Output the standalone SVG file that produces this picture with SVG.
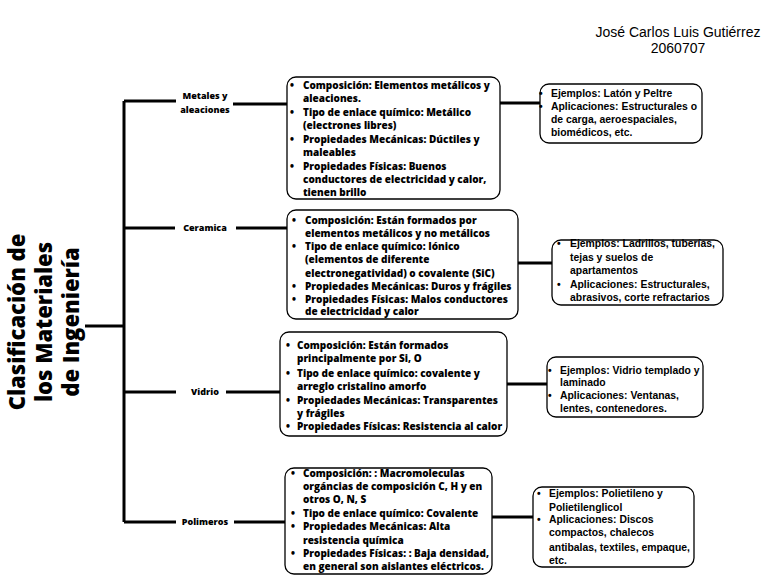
<svg xmlns="http://www.w3.org/2000/svg" width="768" height="576" viewBox="0 0 768 576">
<style>
.bg{fill:#ffffff}
.ln{stroke:#000;stroke-width:3;fill:none}
.box{fill:#fff;stroke:#000;stroke-width:1.3}
.t{font-family:"Open Sans","DejaVu Sans",sans-serif;font-weight:800;font-size:10px;fill:#000}
.r{font-family:"Liberation Sans",Arial,sans-serif;font-weight:700;font-size:10.4px;fill:#000}
.lab{font-family:"Open Sans","DejaVu Sans",sans-serif;font-weight:800;font-size:9px;fill:#000;text-anchor:middle}
.title{font-family:"Open Sans","DejaVu Sans",sans-serif;font-weight:800;font-size:22px;fill:#000;text-anchor:middle}
.auth{font-family:"Liberation Sans",Arial,sans-serif;font-size:14px;fill:#000;text-anchor:middle}
</style>
<rect class="bg" x="0" y="0" width="768" height="576"/>

<g id="author">
<text class="auth" x="678" y="37">José Carlos Luis Gutiérrez</text>
<text class="auth" x="678" y="53">2060707</text>
</g>

<g id="title">
<text class="title" transform="translate(25,322) rotate(-90)">Clasificación de</text>
<text class="title" transform="translate(52,322) rotate(-90)">los Materiales</text>
<text class="title" transform="translate(79,322) rotate(-90)">de Ingeniería</text>
</g>

<g id="connectors">
<path class="ln" d="M85 326 H124"/>
<path class="ln" d="M124 101 V522"/>
<path class="ln" d="M124 101 H176"/>
<path class="ln" d="M233 104 H288"/>
<path class="ln" d="M124 228 H175"/>
<path class="ln" d="M236 228 H288"/>
<path class="ln" d="M124 392 H176"/>
<path class="ln" d="M226 392 H280"/>
<path class="ln" d="M124 522 H176"/>
<path class="ln" d="M234 522 H285"/>
<path class="ln" d="M500 103 H540"/>
<path class="ln" d="M518 263 H553"/>
<path class="ln" d="M507 384 H547"/>
<path class="ln" d="M492 517 H533"/>
</g>

<g id="metales-label">
<text class="lab" x="205" y="99">Metales y</text>
<text class="lab" x="205" y="113">aleaciones</text>
</g>
<g id="ceramica-label"><text class="lab" x="205" y="231">Ceramica</text></g>
<g id="vidrio-label"><text class="lab" x="205" y="395">Vidrio</text></g>
<g id="polimeros-label"><text class="lab" x="205" y="525">Polimeros</text></g>

<g id="metales-props">
<rect class="box" x="287" y="77" width="213" height="122" rx="9"/>
<text class="t" x="290" y="88.5">•</text>
<text class="t" x="303" y="88.5">Composición: Elementos metálicos y</text>
<text class="t" x="303" y="102">aleaciones.</text>
<text class="t" x="290" y="115.5">•</text>
<text class="t" x="303" y="115.5">Tipo de enlace químico: Metálico</text>
<text class="t" x="303" y="129">(electrones libres)</text>
<text class="t" x="290" y="142.5">•</text>
<text class="t" x="303" y="142.5">Propiedades Mecánicas: Dúctiles y</text>
<text class="t" x="303" y="156">maleables</text>
<text class="t" x="290" y="169.5">•</text>
<text class="t" x="303" y="169.5">Propiedades Físicas: Buenos</text>
<text class="t" x="303" y="182.5">conductores de electricidad y calor,</text>
<text class="t" x="303" y="196">tienen brillo</text>
</g>

<g id="metales-uses">
<rect class="box" x="540" y="84" width="162" height="59" rx="9"/>
<text class="r" x="539" y="97">•</text>
<text class="r" x="551" y="97">Ejemplos: Latón y Peltre</text>
<text class="r" x="539" y="110">•</text>
<text class="r" x="551" y="110">Aplicaciones: Estructurales o</text>
<text class="r" x="551" y="122.5">de carga, aeroespaciales,</text>
<text class="r" x="551" y="135.5">biomédicos, etc.</text>
</g>

<g id="ceramica-props">
<rect class="box" x="287" y="210" width="231" height="109" rx="9"/>
<text class="t" x="292" y="223.5">•</text>
<text class="t" x="305" y="223.5">Composición: Están formados por</text>
<text class="t" x="305" y="236.5">elementos metálicos y no metálicos</text>
<text class="t" x="292" y="250">•</text>
<text class="t" x="305" y="250">Tipo de enlace químico: Iónico</text>
<text class="t" x="305" y="263">(elementos de diferente</text>
<text class="t" x="305" y="276.5">electronegatividad) o covalente (SiC)</text>
<text class="t" x="292" y="290">•</text>
<text class="t" x="305" y="290">Propiedades Mecánicas: Duros y frágiles</text>
<text class="t" x="292" y="302.5">•</text>
<text class="t" x="305" y="302.5">Propiedades Físicas: Malos conductores</text>
<text class="t" x="305" y="315">de electricidad y calor</text>
</g>

<g id="ceramica-uses">
<rect class="box" x="552" y="240" width="171" height="65" rx="9"/>
<text class="r" x="557" y="247">•</text>
<text class="r" x="570" y="247">Ejemplos: Ladrillos, tuberías,</text>
<text class="r" x="570" y="260.5">tejas y suelos de</text>
<text class="r" x="570" y="274">apartamentos</text>
<text class="r" x="557" y="287.5">•</text>
<text class="r" x="570" y="287.5">Aplicaciones: Estructurales,</text>
<text class="r" x="570" y="301">abrasivos, corte refractarios</text>
</g>

<g id="vidrio-props">
<rect class="box" x="280" y="332" width="227" height="104" rx="9"/>
<text class="t" x="286" y="348.5">•</text>
<text class="t" x="297" y="348.5">Composición: Están formados</text>
<text class="t" x="297" y="361.5">principalmente por Si, O</text>
<text class="t" x="286" y="376.5">•</text>
<text class="t" x="297" y="376.5">Tipo de enlace químico: covalente y</text>
<text class="t" x="297" y="389.5">arreglo cristalino amorfo</text>
<text class="t" x="286" y="403.5">•</text>
<text class="t" x="297" y="403.5">Propiedades Mecánicas: Transparentes</text>
<text class="t" x="297" y="416.5">y frágiles</text>
<text class="t" x="286" y="430">•</text>
<text class="t" x="297" y="430">Propiedades Físicas: Resistencia al calor</text>
</g>

<g id="vidrio-uses">
<rect class="box" x="547" y="357" width="156" height="60" rx="9"/>
<text class="r" x="548" y="373.5">•</text>
<text class="r" x="560" y="373.5">Ejemplos: Vidrio templado y</text>
<text class="r" x="560" y="385.5">laminado</text>
<text class="r" x="548" y="398.5">•</text>
<text class="r" x="560" y="398.5">Aplicaciones: Ventanas,</text>
<text class="r" x="560" y="411.5">lentes, contenedores.</text>
</g>

<g id="polimeros-props">
<rect class="box" x="285" y="468" width="207" height="106" rx="9"/>
<text class="t" x="291" y="476.5">•</text>
<text class="t" x="303" y="476.5">Composición: : Macromoleculas</text>
<text class="t" x="303" y="490">orgáncias de composición C, H y en</text>
<text class="t" x="303" y="502.5">otros O, N, S</text>
<text class="t" x="291" y="516.5">•</text>
<text class="t" x="303" y="516.5">Tipo de enlace químico: Covalente</text>
<text class="t" x="291" y="530">•</text>
<text class="t" x="303" y="530">Propiedades Mecánicas: Alta</text>
<text class="t" x="303" y="543.5">resistencia química</text>
<text class="t" x="291" y="557">•</text>
<text class="t" x="303" y="557">Propiedades Físicas: : Baja densidad,</text>
<text class="t" x="303" y="570">en general son aislantes eléctricos.</text>
</g>

<g id="polimeros-uses">
<rect class="box" x="533" y="487" width="161" height="80" rx="9"/>
<text class="r" x="537" y="496.5">•</text>
<text class="r" x="549" y="496.5">Ejemplos: Polietileno y</text>
<text class="r" x="549" y="510.5">Polietilenglicol</text>
<text class="r" x="537" y="522.5">•</text>
<text class="r" x="549" y="522.5">Aplicaciones: Discos</text>
<text class="r" x="549" y="535.5">compactos, chalecos</text>
<text class="r" x="549" y="550.5">antibalas, textiles, empaque,</text>
<text class="r" x="549" y="563.5">etc.</text>
</g>
</svg>
